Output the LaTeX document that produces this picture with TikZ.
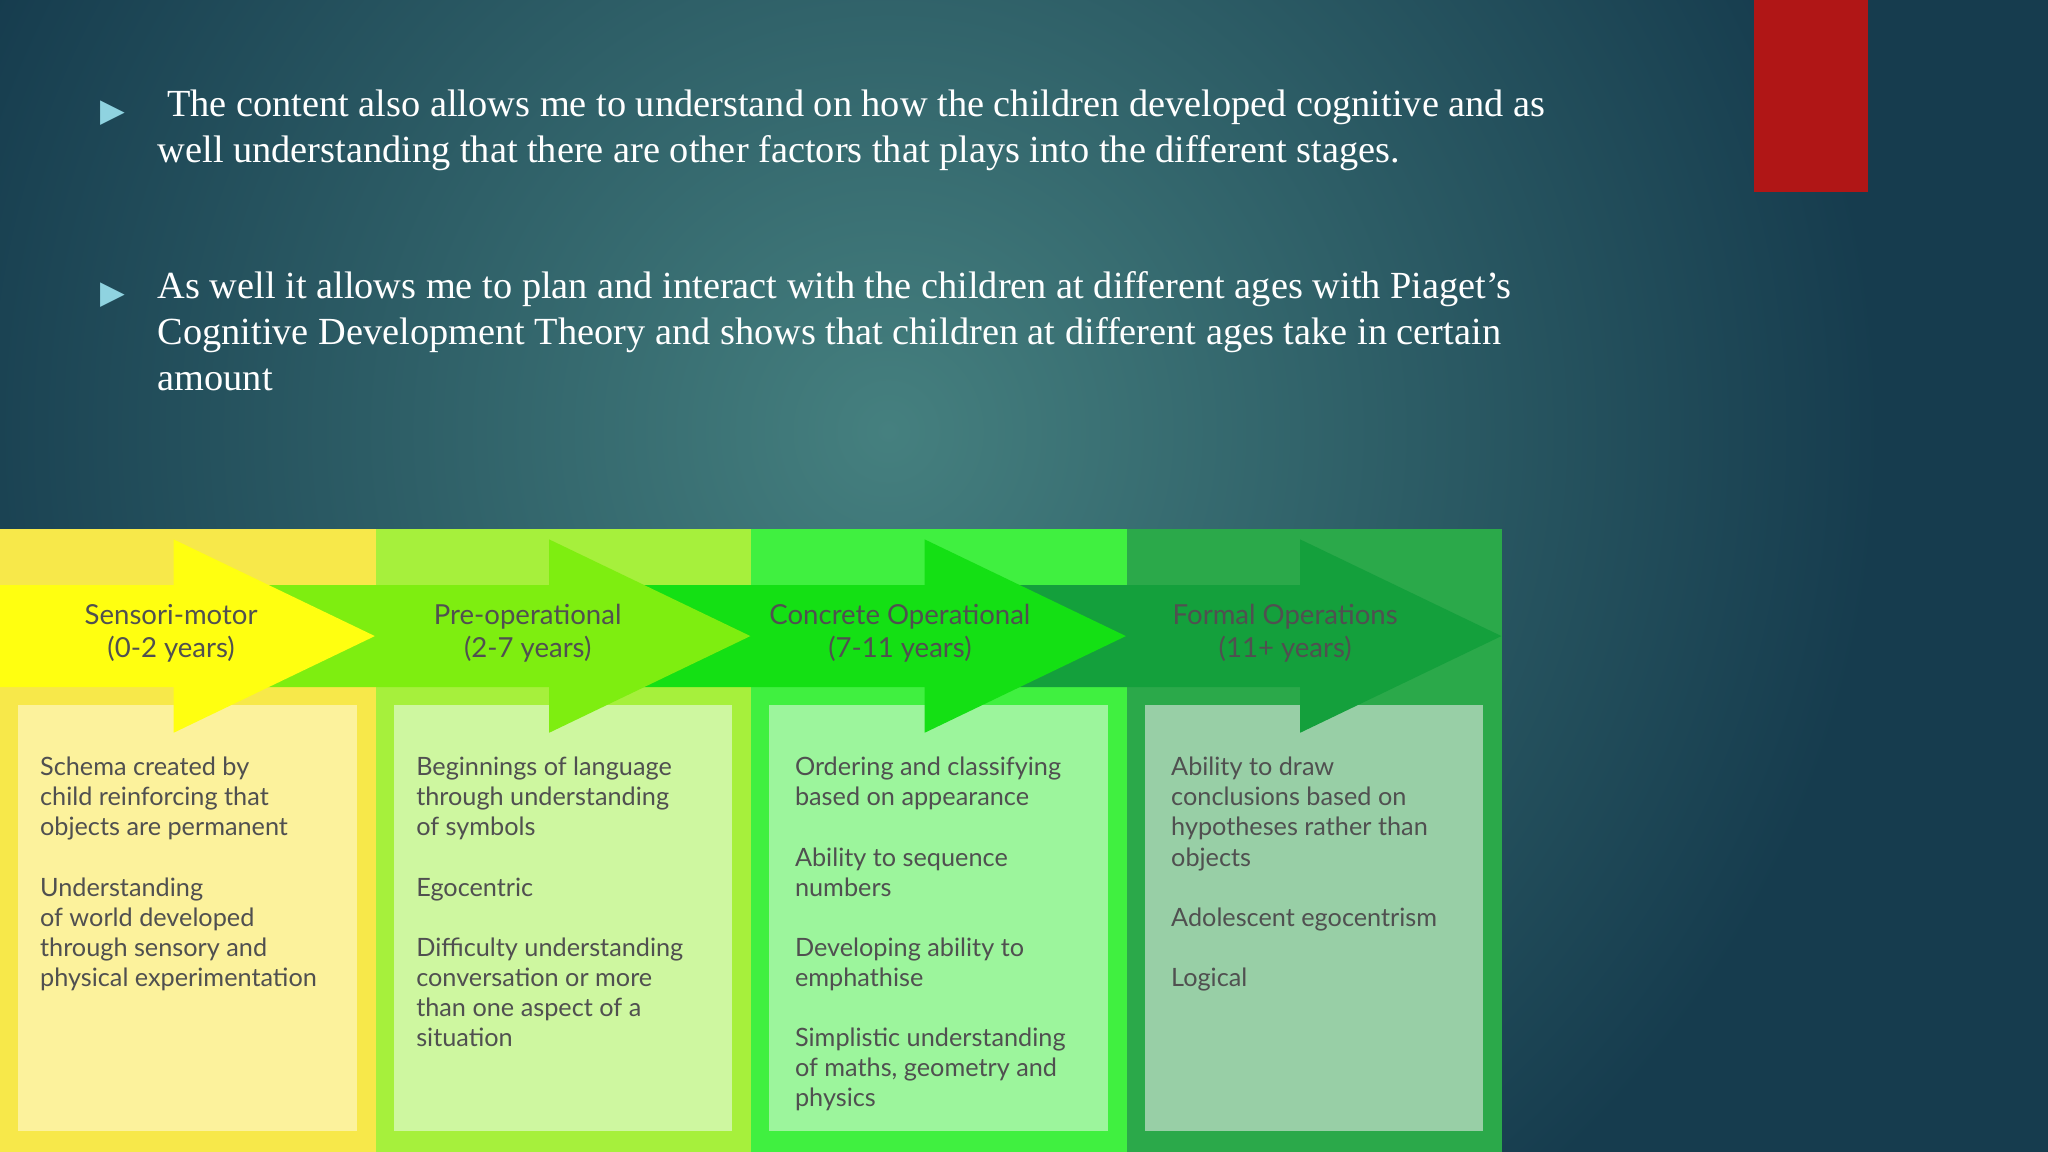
\documentclass[tikz,border=0pt]{standalone}
\usepackage{fontspec}
\setmainfont{Liberation Serif}
\newfontfamily\gill{Lato}
\newfontfamily\dejavufont{DejaVu Sans}
\definecolor{bgdark}{HTML}{163C4E}
\definecolor{bglight}{HTML}{45807F}
\definecolor{redbox}{HTML}{B01616}
\definecolor{bulletc}{HTML}{8FD3E0}
\definecolor{cA}{HTML}{F7E84A}\definecolor{pA}{HTML}{FCF29C}\definecolor{aA}{HTML}{FFFF10}
\definecolor{cB}{HTML}{A6F03C}\definecolor{pB}{HTML}{CEF7A0}\definecolor{aB}{HTML}{7EEE10}
\definecolor{cC}{HTML}{40F040}\definecolor{pC}{HTML}{9CF59C}\definecolor{aC}{HTML}{14E014}
\definecolor{cD}{HTML}{2BA94A}\definecolor{pD}{HTML}{98CFA6}\definecolor{aD}{HTML}{14A03C}
\definecolor{grt}{HTML}{505050}
\tikzset{
 maintext/.style={anchor=north west,text=white,font=\fontsize{8.35pt}{10pt}\selectfont,align=left,inner sep=0},
 bul/.style={anchor=base west,text=bulletc,font=\dejavufont\fontsize{7pt}{7pt}\selectfont,inner sep=0},
 arrlabel/.style={text=grt,font=\gill\fontsize{6pt}{7.1pt}\selectfont,align=center,inner sep=0},
 coltext/.style={anchor=north west,text=grt,font=\gill\fontsize{5.5pt}{6.55pt}\selectfont,align=left,inner sep=0},
}
\begin{document}
\begin{tikzpicture}[x=0.01cm,y=-0.01cm]
\useasboundingbox (0,0) rectangle (1568,882);
\fill[bgdark] (0,0) rectangle (1568,882);
\begin{scope}
\clip (0,0) rectangle (1568,882);
\shade[inner color=bglight,outer color=bgdark] (680,330) circle (760);
\end{scope}
\fill[redbox] (1343,0) rectangle (1430,147);
\node[bul] (b1) at (76,93) {▶};
\node[bul] (b2) at (76,232) {▶};
\node[maintext] (t1) at (120,68) {\hspace{0.25em}The content also allows me to understand on how the children developed cognitive and as\\well understanding that there are other factors that plays into the different stages.};
\node[maintext] (t2) at (120,207) {As well it allows me to plan and interact with the children at different ages with Piaget’s\\Cognitive Development Theory and shows that children at different ages take in certain\\amount};
% columns
\foreach \i/\c/\p in {0/cA/pA,1/cB/pB,2/cC/pC,3/cD/pD}{
 \fill[\c] (287.5*\i,405) rectangle (287.5*\i+287.5,882);
 \fill[\p] (287.5*\i+14,540) rectangle (287.5*\i+273,866);
}
% arrows
\foreach \i/\a in {3/aD,2/aC,1/aB,0/aA}{
 \fill[\a] (287.5*\i-90,448) -- (287.5*\i+133,448) -- (287.5*\i+133,413) -- (287.5*\i+287,487)
   -- (287.5*\i+133,561) -- (287.5*\i+133,526) -- (287.5*\i-90,526) -- cycle;
}
\fill[aA] (0,448) rectangle (10,526);
\node[arrlabel] (l1) at (131,485) {Sensori-motor\\(0-2 years)};
\node[arrlabel] (l2) at (404,485) {Pre-operational\\(2-7 years)};
\node[arrlabel] (l3) at (689,485) {Concrete Operational\\(7-11 years)};
\node[arrlabel] (l4) at (984,485) {Formal Operations\\(11+ years)};
\node[coltext] (c1) at (30,579) {Schema created by\\child reinforcing that\\objects are permanent\\[6.55pt]Understanding\\of world developed\\through sensory and\\physical experimentation};
\node[coltext] (c2) at (318,579) {Beginnings of language\\through understanding\\of symbols\\[6.55pt]Egocentric\\[6.55pt]Difficulty understanding\\conversation or more\\than one aspect of a\\situation};
\node[coltext] (c3) at (608,579) {Ordering and classifying\\based on appearance\\[6.55pt]Ability to sequence\\numbers\\[6.55pt]Developing ability to\\emphathise\\[6.55pt]Simplistic understanding\\of maths, geometry and\\physics};
\node[coltext] (c4) at (896,579) {Ability to draw\\conclusions based on\\hypotheses rather than\\objects\\[6.55pt]Adolescent egocentrism\\[6.55pt]Logical};
\end{tikzpicture}
\end{document}
